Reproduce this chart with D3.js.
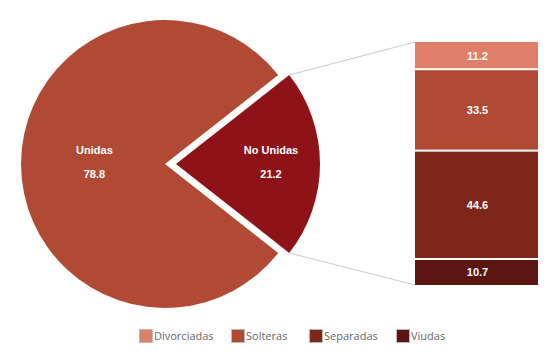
<!DOCTYPE html>
<html>
<head>
<meta charset="utf-8">
<script src="https://cdn.jsdelivr.net/npm/d3@7"></script>
<style>
body { margin: 0; background: #fff; }
svg text { font-family: "Liberation Sans", Arial, sans-serif; }
.legend text { font-family: "Open Sans", "DejaVu Sans", sans-serif; }
</style>
</head>
<body>
<svg id="chart" width="557" height="355"></svg>
<script>
const pieNames = ["Unidas", "No Unidas"]
const pieValues = [78.8, 21.2]
const pieColors = ["#b04a34", "#8e1318"]

const barNames = ["Divorciadas", "Solteras", "Separadas", "Viudas"]
const barValues = [11.2, 33.5, 44.6, 10.7]
const barColors = ["#e0806b", "#b04a34", "#7e2619", "#5c1511"]

const width = 557, height = 355
const svg = d3.select("#chart")

const cx = 165, cy = 164, radius = 144, explode = 11
const PI = Math.PI
const total = d3.sum(pieValues)
const a0 = PI / 2 + PI * pieValues[1] / total

const pie = d3.pie().sort(null).value(d => d).startAngle(a0).endAngle(a0 + 2 * PI)
const arc = d3.arc().innerRadius(0).outerRadius(radius)
const slices = pie(pieValues)

const g = svg.append("g").attr("transform", `translate(${cx},${cy})`)

slices.forEach((s, i) => {
  const mid = (s.startAngle + s.endAngle) / 2
  const dx = i === 1 ? explode * Math.sin(mid) : 0
  const dy = i === 1 ? -explode * Math.cos(mid) : 0
  const sg = g.append("g").attr("transform", `translate(${dx},${dy})`)
  sg.append("path").attr("d", arc(s)).attr("fill", pieColors[i])
  const lr = i === 0 ? radius * 0.49 : radius * 0.66
  const lx = lr * Math.sin(mid), ly = -lr * Math.cos(mid)
  sg.append("text").attr("x", lx).attr("y", ly - 10).attr("text-anchor", "middle")
    .attr("fill", "#fff").attr("font-size", 11).attr("font-weight", "bold").text(pieNames[i])
  sg.append("text").attr("x", lx).attr("y", ly + 14).attr("text-anchor", "middle")
    .attr("fill", "#fff").attr("font-size", 11).attr("font-weight", "bold").text(pieValues[i])
})

// stacked bar
const barX = 415, barW = 123
const y = d3.scaleLinear().domain([0, d3.sum(barValues)]).range([42, 285])
const stack = d3.cumsum([0, ...barValues])

// connector lines from exploded slice corners to bar
const s1 = slices[1]
const mid1 = (s1.startAngle + s1.endAngle) / 2
const ex = cx + explode * Math.sin(mid1), ey = cy - explode * Math.cos(mid1)
const corner = a => [ex + radius * Math.sin(a), ey - radius * Math.cos(a)]
const pTop = corner(s1.startAngle), pBot = corner(s1.endAngle)
svg.append("line").attr("x1", pTop[0]).attr("y1", pTop[1]).attr("x2", barX).attr("y2", y(0))
  .attr("stroke", "#c8c8c8").attr("stroke-width", 1)
svg.append("line").attr("x1", pBot[0]).attr("y1", pBot[1]).attr("x2", barX).attr("y2", y(100))
  .attr("stroke", "#c8c8c8").attr("stroke-width", 1)

const bars = svg.append("g")
barValues.forEach((v, i) => {
  const y0 = y(stack[i]), y1 = y(stack[i + 1])
  const top = i === 0 ? y0 : y0 + 1
  const bot = i === barValues.length - 1 ? y1 : y1 - 1
  bars.append("rect").attr("x", barX).attr("y", top).attr("width", barW).attr("height", bot - top)
    .attr("fill", barColors[i])
  bars.append("text").attr("x", barX + barW / 2 + 1).attr("y", (y0 + y1) / 2 + 4)
    .attr("text-anchor", "middle").attr("fill", "#fff").attr("font-size", 11)
    .attr("font-weight", "bold").text(v)
})

// legend
const legendX = [139, 231, 309, 396]
const legend = svg.append("g").attr("class", "legend")
barNames.forEach((n, i) => {
  legend.append("rect").attr("x", legendX[i] + 0.5).attr("y", 329.5).attr("width", 13).attr("height", 13)
    .attr("fill", barColors[i]).attr("stroke", "#bbb").attr("stroke-width", 1)
  legend.append("text").attr("x", legendX[i] + 15).attr("y", 340).attr("font-size", 11)
    .attr("fill", "#666").text(n)
})
</script>
</body>
</html>
